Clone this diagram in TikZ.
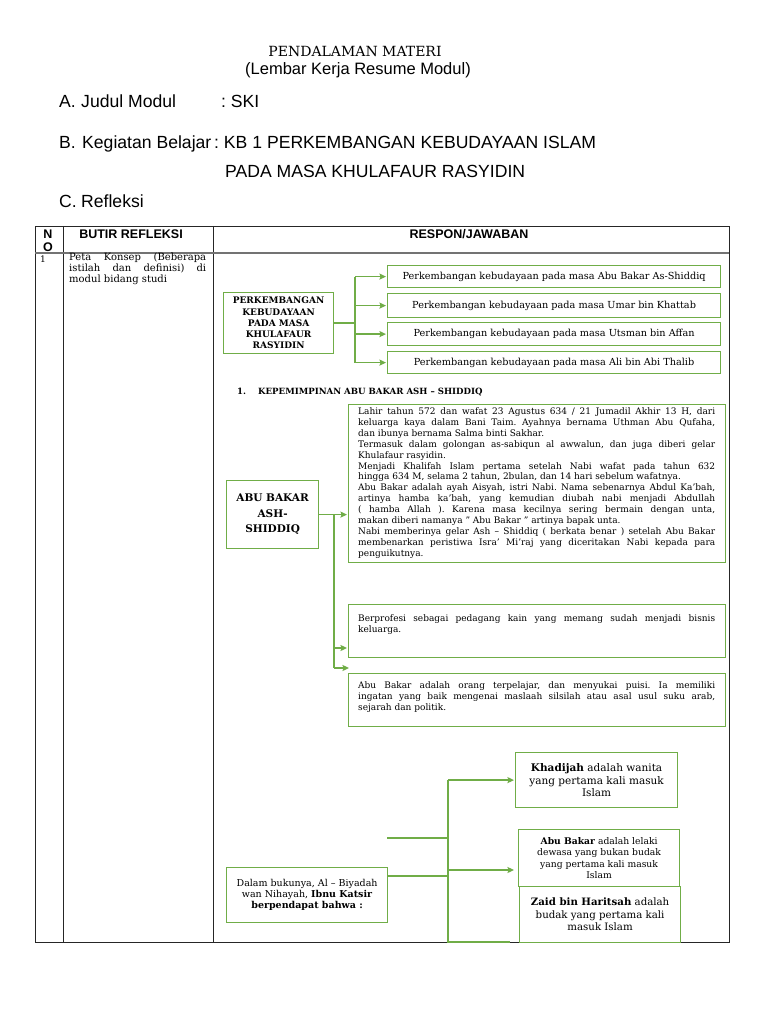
\documentclass[tikz,border=0pt]{standalone}
\usepackage{fontspec}
\setmainfont{DejaVu Serif}
\newfontfamily\arialf{Liberation Sans}
\usetikzlibrary{arrows.meta}
\definecolor{grn}{RGB}{112,173,71}
\newcommand\fs[2]{\fontsize{#1}{#2}\selectfont}
\tolerance=9999
\hbadness=10000
\frenchspacing
\begin{document}
\begin{tikzpicture}[x=1pt,y=-1pt,
  gbox/.style={draw=grn, line width=1.2pt, inner sep=0pt, anchor=north west, align=center},
  gl/.style={draw=grn, line width=1.3pt},
  ga/.style={gl, -{Stealth[length=6.5pt,width=6pt,inset=1pt]}, shorten >=1pt},
  tline/.style={draw=black!85, line width=0.9pt},
  lbl/.style={inner sep=0pt, anchor=base west},
  ar/.style={inner sep=0pt, anchor=base west, font={\arialf\fs{17.6}{20}}},
  txt/.style={inner sep=0pt, anchor=north west, align=justify},
  ]
\fill[white] (0,0) rectangle (768,1024);
\useasboundingbox (0,0) rectangle (768,1024);

% titles
\node[inner sep=0pt] (t1) at (355,51) {\fs{14}{16}PENDALAMAN MATERI};
\node[inner sep=0pt] (t2) at (358,70) {\arialf\fs{16.5}{19}(Lembar Kerja Resume Modul)};
\node[ar] (ha) at (59,108) {A.};
\node[ar] (hat) at (81,108) {Judul Modul};
\node[ar] (has) at (221,108) {: SKI};
\node[ar] (hb) at (59,149) {B.};
\node[ar] (hbt) at (82,149) {Kegiatan Belajar};
\node[ar] (hbs) at (214,149) {: KB 1 PERKEMBANGAN KEBUDAYAAN ISLAM};
\node[ar] (hb2) at (225,178) {PADA MASA KHULAFAUR RASYIDIN};
\node[ar] (hc) at (59,208) {C.};
\node[ar] (hct) at (81,208) {Refleksi};

% table
\draw[tline] (35,226) rectangle (729,942);
\draw[tline] (63,226) -- (63,942);
\draw[tline] (213,226) -- (213,942);
\draw[draw=black!55, line width=1.8pt] (35,253) -- (729,253);
\node[inner sep=0pt] (hn) at (48,234) {\arialf\bfseries\fs{12.5}{14}N};
\node[inner sep=0pt] (ho) at (48,247) {\arialf\bfseries\fs{12.5}{14}O};
\node[inner sep=0pt] (hbr) at (131,234) {\arialf\bfseries\fs{12.5}{14}BUTIR REFLEKSI};
\node[inner sep=0pt] (hrj) at (469,234) {\arialf\bfseries\fs{12.5}{14}RESPON/JAWABAN};
\node[lbl] (n1) at (40,262) {\fs{9}{11}1};
\node[txt, text width=137pt, font={\fs{10}{11}}] (pk0) at (69,253) {Peta Konsep (Beberapa\linebreak istilah dan definisi) di\linebreak modul bidang studi};

% concept map 1
\node[gbox, minimum width=110pt, minimum height=61pt, font={\fs{9}{11.3}\bfseries}] (pk) at (223,292)
  {PERKEMBANGAN\\KEBUDAYAAN\\PADA MASA\\KHULAFAUR\\RASYIDIN};
\node[gbox, minimum width=333pt, minimum height=22pt, font={\fs{9.7}{11}}] (b1) at (387,265) {Perkembangan kebudayaan pada masa Abu Bakar As-Shiddiq};
\node[gbox, minimum width=333pt, minimum height=24pt, font={\fs{9.7}{11}}] (b2) at (387,293) {Perkembangan kebudayaan pada masa Umar bin Khattab};
\node[gbox, minimum width=333pt, minimum height=23pt, font={\fs{9.7}{11}}] (b3) at (387,322) {Perkembangan kebudayaan pada masa Utsman bin Affan};
\node[gbox, minimum width=333pt, minimum height=22pt, font={\fs{9.7}{11}}] (b4) at (387,351) {Perkembangan kebudayaan pada masa Ali bin Abi Thalib};
\coordinate (tx1) at (355,0);
\draw[gl] (pk.east) -- (pk.east -| tx1);
\draw[gl] (tx1 |- b1.west) -- (tx1 |- b4.west);
\draw[ga] (tx1 |- b1.west) -- (b1.west);
\draw[ga] (tx1 |- b2.west) -- (b2.west);
\draw[ga] (tx1 |- b3.west) -- (b3.west);
\draw[ga] (tx1 |- b4.west) -- (b4.west);

% heading
\node[lbl] (h1n) at (237,394) {\fs{8.6}{10}\bfseries 1.};
\node[lbl] (h1) at (258,394) {\fs{8.6}{10}\bfseries KEPEMIMPINAN ABU BAKAR ASH – SHIDDIQ};

% Abu Bakar map
\node[gbox, minimum width=92pt, minimum height=68pt, font={\fs{10.5}{15.5}\bfseries}] (ab) at (226,480)
  {ABU BAKAR\\ASH-\\SHIDDIQ};
\node[gbox, minimum width=377pt, minimum height=158pt] (bb) at (348,404) {};
\node[txt, text width=357pt, font={\fs{9}{10.9}}] (bbt) at ([xshift=10pt,yshift=-3.5pt]bb.north west) {%
Lahir tahun 572 dan wafat 23 Agustus 634 / 21 Jumadil Akhir 13 H, dari\linebreak
keluarga kaya dalam Bani Taim. Ayahnya bernama Uthman Abu Qufaha,\linebreak
dan ibunya bernama Salma binti Sakhar.\newline
Termasuk dalam golongan as-sabiqun al awwalun, dan juga diberi gelar\linebreak
Khulafaur rasyidin.\newline
Menjadi Khalifah Islam pertama setelah Nabi wafat pada tahun 632\linebreak
hingga 634 M, selama 2 tahun, 2bulan, dan 14 hari sebelum wafatnya.\newline
Abu Bakar adalah ayah Aisyah, istri Nabi. Nama sebenarnya Abdul Ka’bah,\linebreak
artinya hamba ka’bah, yang kemudian diubah nabi menjadi Abdullah\linebreak
( hamba Allah ). Karena masa kecilnya sering bermain dengan unta,\linebreak
makan diberi namanya " Abu Bakar " artinya bapak unta.\newline
Nabi memberinya gelar Ash – Shiddiq ( berkata benar ) setelah Abu Bakar\linebreak
membenarkan peristiwa Isra’ Mi’raj yang diceritakan Nabi kepada para\linebreak
penguikutnya.};
\node[gbox, minimum width=377pt, minimum height=53pt] (bp) at (348,604) {};
\node[txt, text width=357pt, font={\fs{9}{10.9}}] (bpt) at ([xshift=10pt,yshift=-10.5pt]bp.north west) {%
Berprofesi sebagai pedagang kain yang memang sudah menjadi bisnis\linebreak
keluarga.};
\node[gbox, minimum width=377pt, minimum height=53pt] (lb) at (348,673) {};
\node[txt, text width=357pt, font={\fs{9}{10.9}}] (lbt) at ([xshift=10pt,yshift=-8.5pt]lb.north west) {%
Abu Bakar adalah orang terpelajar, dan menyukai puisi. Ia memiliki\linebreak
ingatan yang baik mengenai maslaah silsilah atau asal usul suku arab,\linebreak
sejarah dan politik.};
\coordinate (tx2) at (334,0);
\coordinate (a2) at (348,648);
\coordinate (a3) at (350,668);
\draw[ga] (ab.east) -- (bb.west |- ab.east);
\draw[gl] (tx2 |- ab.east) -- (tx2 |- a3);
\draw[ga] (tx2 |- a2) -- (a2);
\draw[ga] (tx2 |- a3) -- (a3);

% Ibnu Katsir map
\node[gbox, minimum width=162pt, minimum height=55pt, font={\fs{10.5}{12.5}}] (kh) at (515,752)
  {\textbf{Khadijah} adalah wanita\\yang pertama kali masuk\\Islam};
\node[gbox, minimum width=161pt, minimum height=57pt, font={\fs{9.2}{11.3}}] (ab2) at (518,829)
  {\textbf{Abu Bakar} adalah lelaki\\dewasa yang bukan budak\\yang pertama kali masuk\\Islam};
\node[gbox, minimum width=161pt, minimum height=56pt, font={\fs{10.2}{12.5}}] (zd) at (519,886)
  {\textbf{Zaid bin Haritsah} adalah\\budak yang pertama kali\\masuk Islam};
\node[gbox, minimum width=161pt, minimum height=55pt, font={\fs{9.5}{11}}] (dl) at (226,867)
  {Dalam bukunya, Al – Biyadah\\wan Nihayah, \textbf{Ibnu Katsir}\\\textbf{berpendapat bahwa :}};
\coordinate (tx3) at (448,0);
\coordinate (stub) at (387,838);
\coordinate (dle) at (387,876);
\coordinate (a4) at (515,870);
\coordinate (a5) at (510,942);
\draw[gl] (tx3 |- kh.west) -- (tx3 |- a5) -- (a5);
\draw[ga] (tx3 |- kh.west) -- (kh.west);
\draw[gl] (stub) -- (stub -| tx3);
\draw[gl] (dle) -- (dle -| tx3);
\draw[ga] (tx3 |- a4) -- (a4);
\end{tikzpicture}
\end{document}
